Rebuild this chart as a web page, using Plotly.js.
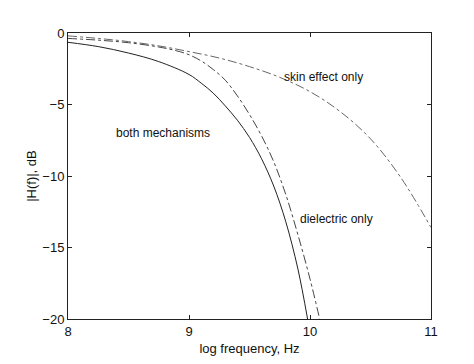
<!DOCTYPE html>
<html>
<head>
<meta charset="utf-8">
<script src="https://cdn.plot.ly/plotly-3.0.1.min.js"></script>
<style>html,body{margin:0;padding:0;background:#fff;}#chart{width:474px;height:364px;}</style>
</head>
<body>
<div id="chart"></div>
<script>
// log10 frequency (Hz) and |H(f)| in dB
const skinX = [8.0, 8.25, 8.5, 8.75, 9.0, 9.25, 9.5, 9.75, 10.0, 10.25, 10.5, 10.75, 11.0];
const skinY = [-0.2, -0.38, -0.6, -0.9, -1.3, -1.75, -2.35, -3.1, -4.1, -5.5, -7.4, -10.1, -13.6];

const dielX = [8.0, 8.25, 8.5, 8.75, 8.9, 9.0, 9.1, 9.2, 9.3, 9.4, 9.5, 9.6, 9.7, 9.8, 9.9, 10.0, 10.08];
const dielY = [-0.38, -0.5, -0.68, -0.98, -1.25, -1.52, -1.95, -2.55, -3.3, -4.4, -5.7, -7.2, -9.0, -11.3, -14.1, -17.2, -20.0];

const bothX = [8.0, 8.25, 8.5, 8.75, 9.0, 9.1, 9.2, 9.3, 9.4, 9.5, 9.6, 9.7, 9.8, 9.9, 9.98];
const bothY = [-0.65, -0.95, -1.4, -2.0, -2.9, -3.5, -4.2, -5.1, -6.1, -7.3, -8.8, -10.7, -13.2, -16.5, -20.0];

const xTicks = [8, 9, 10, 11];
const yTicks = [0, -5, -10, -15, -20];

const labels = ["skin effect only", "both mechanisms", "dielectric only"];
const labelX = [9.77, 8.38, 9.90];
const labelY = [-3.1, -7.0, -13.0];

const traces = [
  {x: skinX, y: skinY, mode: 'lines', line: {color: '#666', width: 1, dash: 'dashdot', shape: 'spline'}},
  {x: dielX, y: dielY, mode: 'lines', line: {color: '#444', width: 1, dash: 'dashdot', shape: 'spline'}},
  {x: bothX, y: bothY, mode: 'lines', line: {color: '#222', width: 1, shape: 'spline'}}
];

const annotations = labels.map((t, i) => ({
  x: labelX[i], y: labelY[i], xref: 'x', yref: 'y', text: t, showarrow: false,
  xanchor: 'left', yanchor: 'middle', font: {family: 'Liberation Sans, Arial, sans-serif', size: 12, color: '#111'}
}));

const layout = {
  width: 474, height: 364,
  margin: {l: 68, r: 43, t: 33, b: 45},
  paper_bgcolor: '#fff', plot_bgcolor: '#fff',
  showlegend: false,
  font: {family: 'Liberation Sans, Arial, sans-serif', size: 13, color: '#111'},
  xaxis: {
    range: [8, 11], tickvals: xTicks, ticktext: xTicks.map(String),
    showgrid: false, zeroline: false, showline: true, linecolor: '#222', linewidth: 1,
    mirror: 'ticks', ticks: 'inside', ticklen: 4, tickcolor: '#222',
    title: {text: 'log frequency, Hz', standoff: 6, font: {size: 13}}
  },
  yaxis: {
    range: [-20, 0], tickvals: yTicks, ticktext: yTicks.map(v => v === 0 ? '0' : '\u2212' + Math.abs(v)),
    showgrid: false, zeroline: false, showline: true, linecolor: '#222', linewidth: 1,
    mirror: 'ticks', ticks: 'inside', ticklen: 4, tickcolor: '#222',
    title: {text: '|H(f)|, dB', standoff: 2, font: {size: 13}}
  },
  annotations: annotations
};

Plotly.newPlot('chart', traces, layout, {displayModeBar: false, staticPlot: true});
</script>
</body>
</html>
